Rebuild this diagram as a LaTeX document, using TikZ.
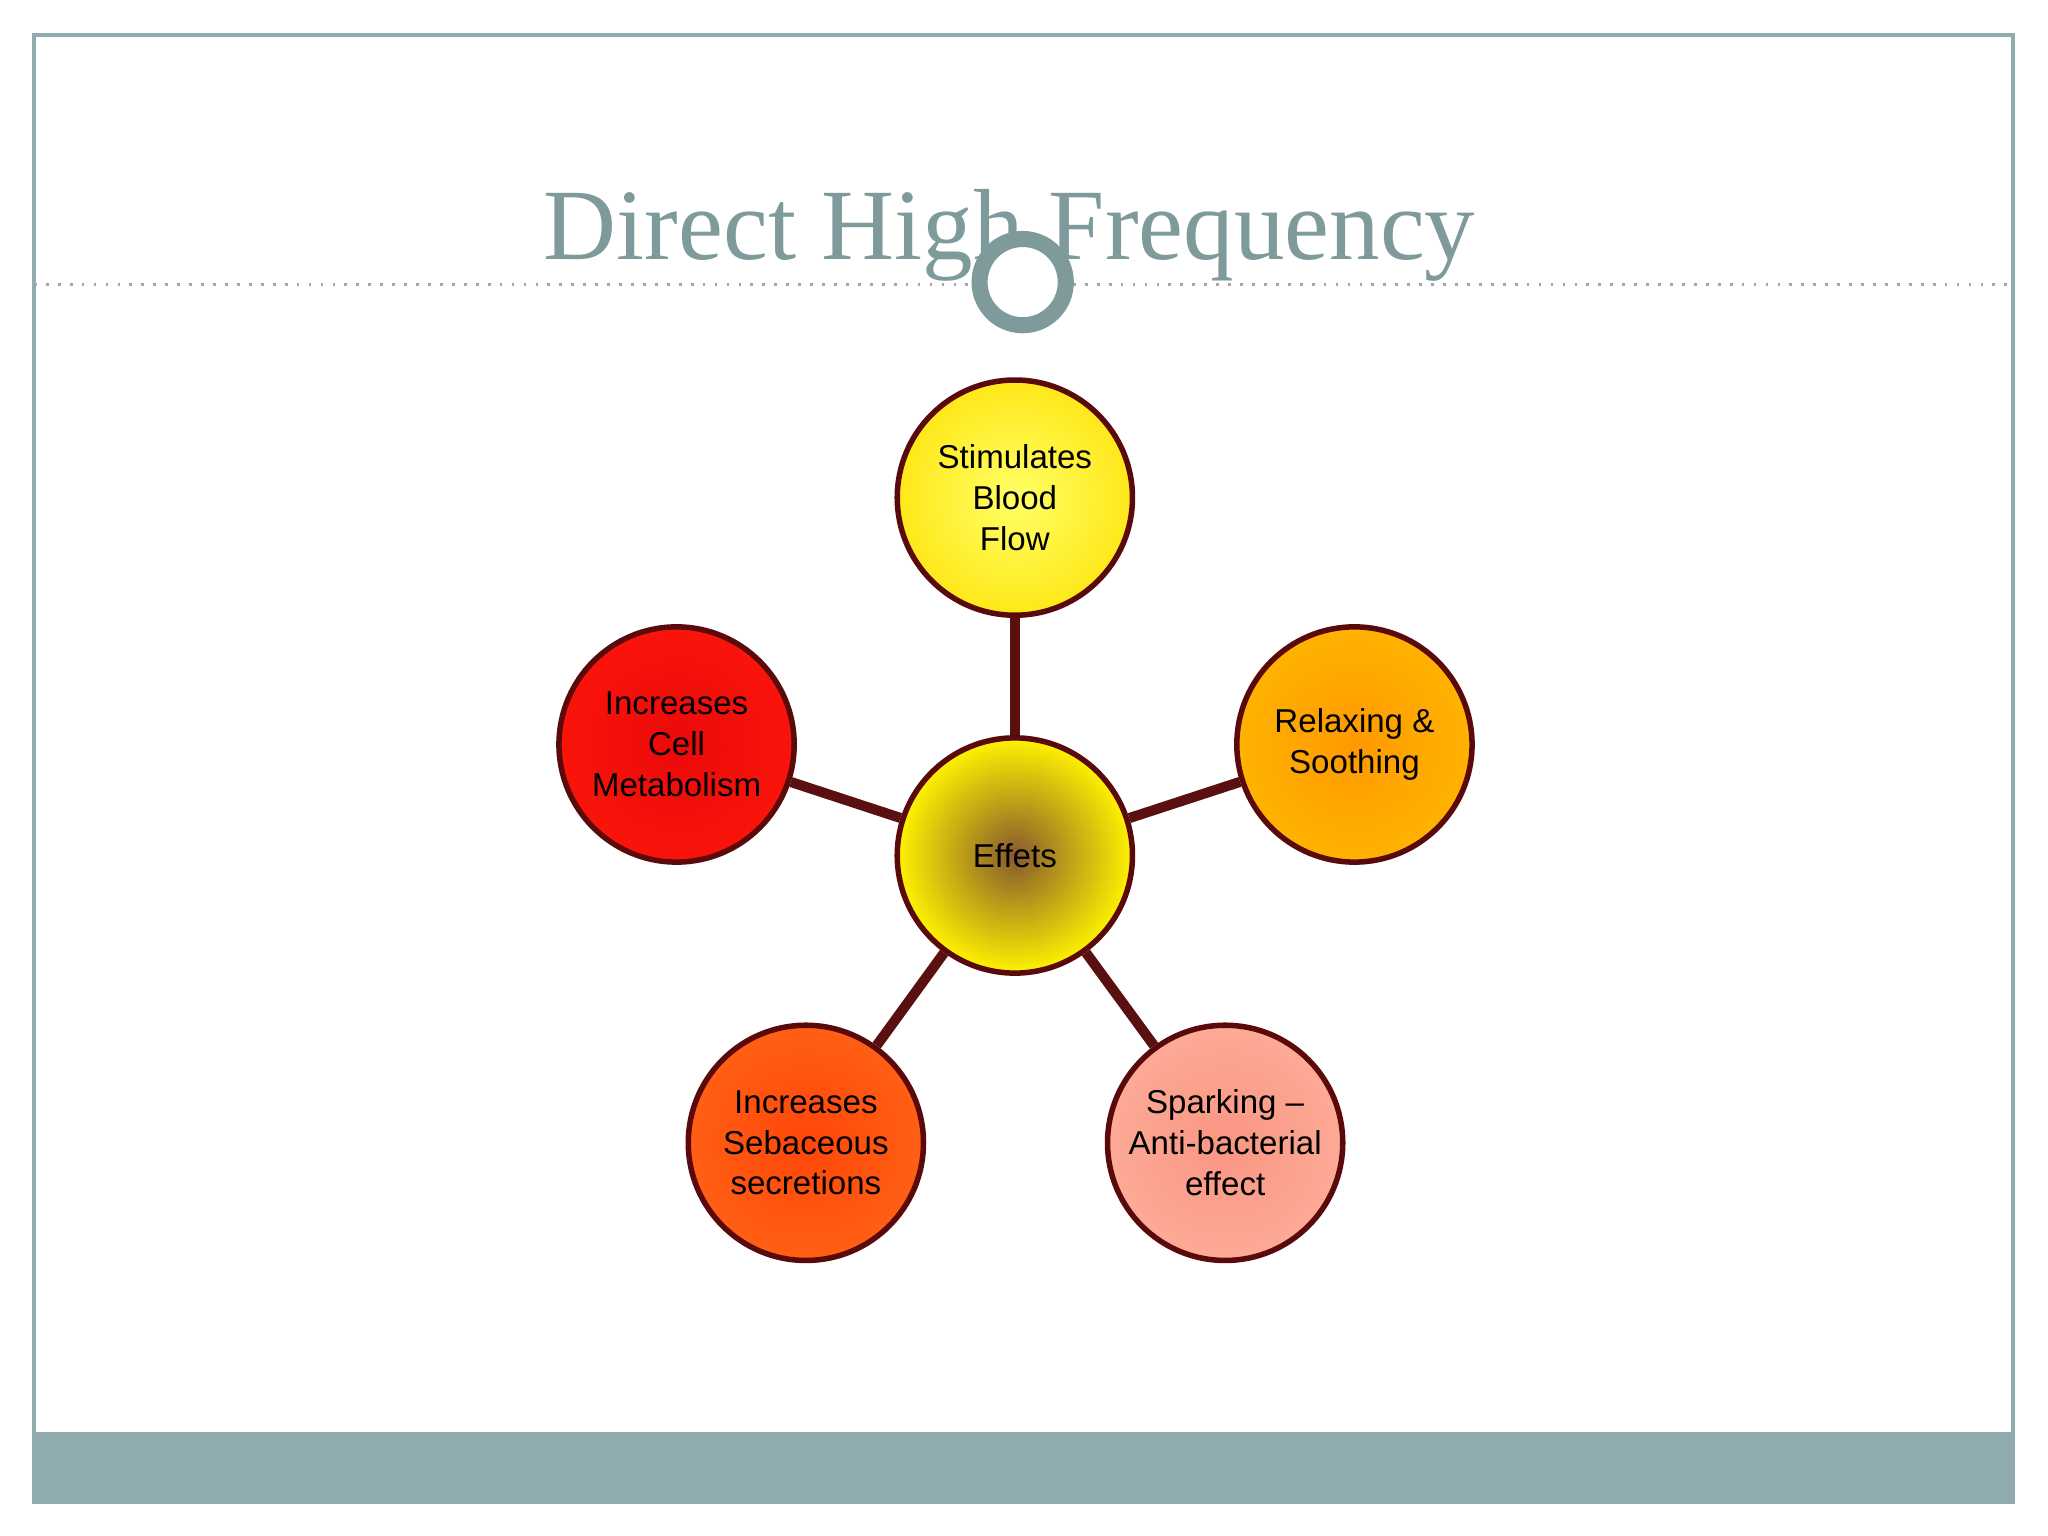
\documentclass[tikz,border=0pt]{standalone}
\usepackage{fontspec}
\setmainfont{Liberation Serif}
\setsansfont{Liberation Sans}
\begin{document}
\begin{tikzpicture}[x=0.01cm,y=-0.01cm,
  bub/.style={circle,draw=bubline,line width=1.2pt,minimum size=1.8cm,inner sep=0pt,align=center,
    font=\sffamily\fontsize{7.2}{8.9}\selectfont,text=black},
  spoke/.style={draw=spokecol,line width=2.2pt}]
\definecolor{teal}{HTML}{8FABAD}
\definecolor{titlec}{HTML}{7F9A9A}
\definecolor{bubline}{HTML}{5A0A0A}
\definecolor{spokecol}{HTML}{5A1010}
\useasboundingbox (0,0) rectangle (1568,1176);
\fill[white] (0,0) rectangle (1568,1176);
\fill[teal] (26,1096) rectangle (1541,1150);
\draw[teal,line width=0.8pt] (26,27) rectangle (1541,1150);
\draw[gray!70,dotted,line width=0.6pt] (26,218) -- (1541,218);
\node[font=\fontsize{22}{26}\selectfont,text=titlec] (title) at (773,180) {Direct High Frequency};
\node[circle,draw=titlec,fill=white,line width=3.5pt,minimum size=0.66cm] (ring) at (783,216) {};
\node[bub,inner color=brown!70!black,outer color=yellow!90!orange] (c) at (777,655) {Effets};
\node[bub,inner color=yellow!60,outer color=yellow!80!orange!90] (t) at (777,381) {Stimulates\\Blood\\Flow};
\node[bub,inner color=orange!80!yellow,outer color=orange!60!yellow] (r) at (1037,570) {Relaxing \&\\Soothing};
\node[bub,inner color={rgb,255:red,250;green,150;blue,130},outer color={rgb,255:red,252;green,170;blue,150}] (br) at (938,875) {Sparking --\\Anti-bacterial\\effect};
\node[bub,inner color={rgb,255:red,255;green,70;blue,10},outer color={rgb,255:red,255;green,95;blue,20}] (bl) at (617,875) {Increases\\Sebaceous\\secretions};
\node[bub,inner color={rgb,255:red,235;green,10;blue,10},outer color={rgb,255:red,250;green,20;blue,10}] (l) at (518,570) {Increases\\Cell\\Metabolism};
\foreach \n in {t,r,br,bl,l} \draw[spoke] (c) -- (\n);
\end{tikzpicture}
\end{document}
